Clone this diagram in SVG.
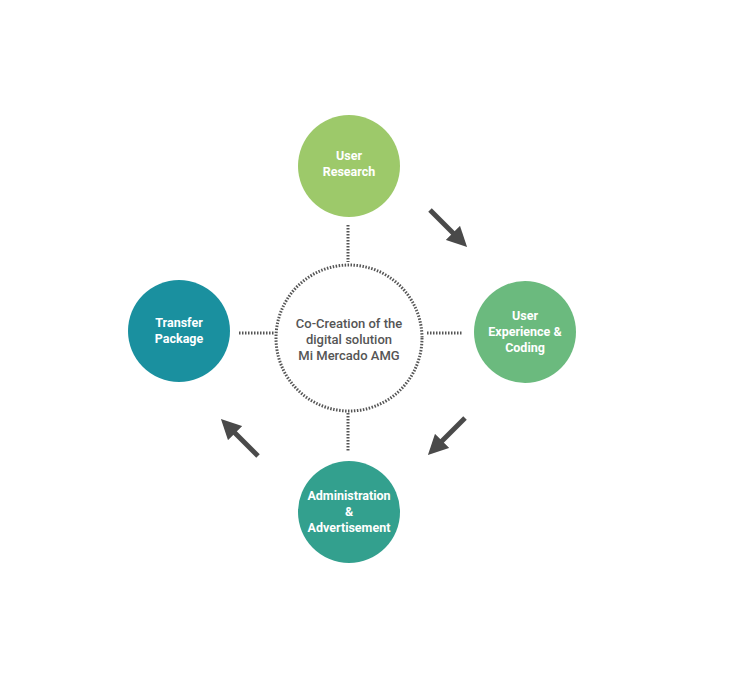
<svg xmlns="http://www.w3.org/2000/svg" width="750" height="692" viewBox="0 0 750 692">
<style>
.n{font-family:Roboto,"Liberation Sans",sans-serif;font-weight:bold;font-size:12.5px;fill:#fff;text-anchor:middle}
.d{stroke:#555;stroke-width:3;stroke-dasharray:1.5 1.5;fill:none}
.a{stroke:#4a4a4a;stroke-width:5;fill:none;marker-end:url(#ah)}
</style>
<defs><marker id="ah" viewBox="0 0 10 10" refX="5" refY="5" markerWidth="4" markerHeight="4" orient="auto" markerUnits="strokeWidth"><path d="M0,0L10,5L0,10Z" fill="#4a4a4a"/></marker></defs>
<rect width="750" height="692" fill="#fff"/>
<g id="connectors">
<line class="d" x1="348" y1="225" x2="348" y2="262"/>
<line class="d" x1="348" y1="413" x2="348" y2="452"/>
<line class="d" x1="239" y1="333" x2="274" y2="333"/>
<line class="d" x1="427" y1="333" x2="462" y2="333"/>
<line class="a" x1="430" y1="210" x2="460" y2="240"/>
<line class="a" x1="465" y1="418" x2="435" y2="448"/>
<line class="a" x1="258" y1="456" x2="228" y2="426"/>
</g>
<g id="center"><circle cx="349" cy="338" r="73" fill="#fff" stroke="#555" stroke-width="3" stroke-dasharray="1.5 1.5"/>
<text font-family="Roboto,Liberation Sans,sans-serif" font-size="13" fill="#555" text-anchor="middle" font-weight="500"><tspan x="349" y="328">Co-Creation of the</tspan><tspan x="349" y="344">digital solution</tspan><tspan x="349" y="360">Mi Mercado AMG</tspan></text></g>
<g id="user-research"><circle cx="349" cy="166" r="51" fill="#9DC96A"/><text class="n"><tspan x="349" y="160">User</tspan><tspan x="349" y="176">Research</tspan></text></g>
<g id="ux"><circle cx="525" cy="332" r="51" fill="#6BBA7E"/><text class="n"><tspan x="525" y="320">User</tspan><tspan x="525" y="336">Experience &amp;</tspan><tspan x="525" y="352">Coding</tspan></text></g>
<g id="admin"><circle cx="349" cy="512" r="51" fill="#33A08E"/><text class="n"><tspan x="349" y="500">Administration</tspan><tspan x="349" y="516">&amp;</tspan><tspan x="349" y="532">Advertisement</tspan></text></g>
<g id="transfer"><circle cx="179" cy="331" r="51" fill="#1A909F"/><text class="n"><tspan x="179" y="327">Transfer</tspan><tspan x="179" y="343">Package</tspan></text></g>
</svg>
